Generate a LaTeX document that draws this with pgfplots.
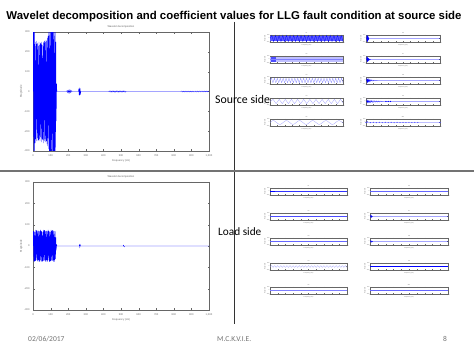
\documentclass[border=0pt]{standalone}
\usepackage{pgfplots}
\pgfplotsset{compat=1.18}
\usepackage{fontspec}
\setmainfont{Liberation Sans}
\newfontfamily\calibri{Carlito}
\pgfplotsset{
  mat/.style={scale only axis, anchor=south west, xmin=0, xmax=1000, xtick={0,100,...,1000},
    axis line style={black!60, line width=0.25pt}, tick style={black!60, line width=0.2pt},
    every axis plot/.append style={line width=0.25pt},
    /pgf/number format/assume math mode=true, scaled ticks=false,
    tick label style={text=black!60}, label style={text=black!60}, title style={text=black!60}},
  big/.style={mat, width=176pt, ymin=-300, ymax=300, ytick={-300,-200,...,300},
    every axis title shift=0.8pt, xlabel shift=-4pt, ylabel shift=-5pt,
    tick label style={font=\fontsize{2.6}{3}\selectfont},
    label style={font=\fontsize{2.6}{3}\selectfont},
    title style={font=\fontsize{2.6}{3}\selectfont},
    title={Wavelet decomposition}, xlabel={Frequency (Hz)}, ylabel={Magnitude}, major tick length=1.5pt},
  sm/.style={mat, height=7pt, ymin=-200, ymax=200, ytick={-200,0,200},
    every axis title shift=0.3pt,
    tick label style={font=\fontsize{1.4}{1.6}\selectfont, inner sep=0.4pt},
    label style={font=\fontsize{1.4}{1.6}\selectfont, inner sep=0.4pt},
    title style={font=\fontsize{1.4}{1.6}\selectfont, inner sep=0.5pt},
    xlabel={Frequency (Hz)}, ylabel={Magnitude}, major tick length=0.8pt},
}
\begin{document}
\begin{tikzpicture}
\useasboundingbox (0pt,0pt) rectangle (474pt,355pt);
\fill[white] (0pt,0pt) rectangle (474pt,355pt);
% slide text
\node[font=\bfseries\fontsize{11.4}{13}\selectfont] at (234pt,338pt) {Wavelet decomposition and coefficient values for LLG fault condition at source side};
\draw[black!80, line width=0.8pt] (234pt,333pt) -- (234pt,31pt);
\draw[black!55, line width=1.5pt] (0pt,184pt) -- (474pt,184pt);
\node[anchor=west, inner sep=0pt, font=\calibri\fontsize{11.8}{13}\selectfont] at (215pt,256pt) {Source side};
\node[anchor=west, inner sep=0pt, font=\calibri\fontsize{11.3}{13}\selectfont] at (218pt,123pt) {Load side};
\node[anchor=west, inner sep=0pt, text=black!55, font=\calibri\fontsize{7.5}{8}\selectfont] at (28pt,16pt) {02/06/2017};
\node[anchor=west, inner sep=0pt, text=black!55, font=\calibri\fontsize{7.5}{8}\selectfont] at (217pt,16pt) {M.C.K.V.I.E.};
\node[anchor=west, inner sep=0pt, text=black!55, font=\calibri\fontsize{7.5}{8}\selectfont] at (443pt,16pt) {8};

% ===== top-left main axis (source side)
\begin{axis}[big, at={(33pt,204pt)}, height=119pt]
\addplot[blue, line width=0.3pt] coordinates {(0,0)(2,330)(4,-330)(6,320)(8,-330)(10,300)(12,-260)(14,250)(16,-240)(18,255)(20,-250)(22,240)(24,-235)(26,245)(28,-250)(30,230)(32,-245)(34,250)(36,-240)(38,235)(40,-250)(42,245)(44,-230)(46,240)(48,-255)(50,250)(52,-240)(54,235)(56,-245)(58,250)(60,-260)(62,245)(64,-250)(66,255)(68,-240)(70,250)(72,-255)(74,260)(76,-250)(78,255)(80,-265)(82,270)(84,-275)(86,280)(88,-290)(90,300)(92,-310)(94,320)(96,-330)(98,330)(100,-330)(102,330)(104,-330)(106,330)(108,-330)(110,330)(112,-330)(114,330)(116,-330)(118,330)(120,-330)(122,330)(124,-330)(126,330)(128,-320)(130,250)(132,-150)(134,40)(136,0)};
\addplot[blue, line width=0.3pt] coordinates {(136,0)(190,0)(194,5)(197,-5)(200,6)(203,-6)(206,7)(209,-7)(212,6)(215,-6)(219,4)(223,0)(258,0)(260,14)(262,-18)(264,20)(266,-20)(268,16)(270,-10)(272,0)(430,0)(434,3)(438,-3)(442,3)(446,-3)(450,3)(454,-3)(458,3)(462,-3)(466,3)(470,-3)(474,3)(478,-3)(482,3)(486,-3)(490,3)(494,-3)(498,3)(502,-3)(506,3)(510,-3)(514,3)(518,-3)(522,3)(526,-3)(530,0)(840,0)(845,2.5)(850,-2.5)(855,2.5)(860,-2.5)(865,2.5)(870,-2.5)(875,2.5)(880,-2.5)(885,2.5)(890,-2.5)(895,2.5)(900,-2.5)(905,2.5)(910,-2.5)(915,2.5)(920,-2.5)(925,2.5)(930,-2.5)(935,2.5)(940,-2.5)(945,2.5)(950,-2.5)(955,2.5)(960,-2.5)(965,2.5)(970,-2.5)(975,2.5)(980,-2.5)(985,2.5)(990,-2.5)(995,2.5)(1000,0)};
\end{axis}

% ===== bottom-left main axis (load side)
\begin{axis}[big, at={(33pt,45pt)}, height=128pt]
\addplot[blue, line width=0.3pt] coordinates {(0,0)(2,70)(4,-72)(6,68)(8,-74)(10,66)(12,-70)(14,75)(16,-68)(18,72)(20,-66)(22,74)(24,-70)(26,68)(28,-75)(30,72)(32,-66)(34,70)(36,-74)(38,68)(40,-72)(42,75)(44,-66)(46,70)(48,-72)(50,68)(52,-74)(54,66)(56,-70)(58,75)(60,-68)(62,72)(64,-66)(66,74)(68,-70)(70,68)(72,-75)(74,72)(76,-66)(78,70)(80,-74)(82,68)(84,-72)(86,75)(88,-66)(90,70)(92,-72)(94,68)(96,-74)(98,66)(100,-70)(102,75)(104,-68)(106,72)(108,-66)(110,74)(112,-70)(114,68)(116,-75)(118,72)(120,-66)(122,70)(124,-74)(126,68)(128,-60)(130,40)(132,-20)(134,5)(136,0)};
\addplot[blue, line width=0.3pt] coordinates {(136,0)(262,0)(264,6)(266,-6)(268,6)(270,0)(512,0)(515,4)(518,-4)(521,0)(1000,0)};
\end{axis}

% ===== top-right small axes, left column
\begin{axis}[sm, at={(270pt,313pt)}, width=73pt, title={d1}]
\addplot[fill=blue!65, draw=none] coordinates {(0,-150)(0,150)(1000,150)(1000,-150)};
\addplot[blue] coordinates {(0,0)(25,185)(50,-185)(75,185)(100,-185)(125,185)(150,-185)(175,185)(200,-185)(225,185)(250,-185)(275,185)(300,-185)(325,185)(350,-185)(375,185)(400,-185)(425,185)(450,-185)(475,185)(500,-185)(525,185)(550,-185)(575,185)(600,-185)(625,185)(650,-185)(675,185)(700,-185)(725,185)(750,-185)(775,185)(800,-185)(825,185)(850,-185)(875,185)(900,-185)(925,185)(950,-185)(975,185)(1000,-185)};
\end{axis}
\begin{axis}[sm, at={(270pt,292pt)}, width=73pt, title={d2}]
\addplot[fill=blue!25, draw=none] coordinates {(0,-150)(0,150)(1000,150)(1000,-150)};
\addplot[fill=blue!70, draw=none] coordinates {(10,-160)(10,160)(80,160)(80,-160)};
\addplot[blue!50] coordinates {(0,0)(1000,0)};
\end{axis}
\begin{axis}[sm, at={(270pt,271pt)}, width=73pt, title={d3}]
\addplot[blue!50] coordinates {(0,0)(20,130)(40,-130)(60,130)(80,-130)(100,130)(120,-130)(140,130)(160,-130)(180,130)(200,-130)(220,130)(240,-130)(260,130)(280,-130)(300,130)(320,-130)(340,130)(360,-130)(380,130)(400,-130)(420,130)(440,-130)(460,130)(480,-130)(500,130)(520,-130)(540,130)(560,-130)(580,130)(600,-130)(620,130)(640,-130)(660,130)(680,-130)(700,130)(720,-130)(740,130)(760,-130)(780,130)(800,-130)(820,130)(840,-130)(860,130)(880,-130)(900,130)(920,-130)(940,130)(960,-130)(980,130)(1000,-130)};
\end{axis}
\begin{axis}[sm, at={(270pt,250pt)}, width=73pt, title={d4}]
\addplot[blue!40] coordinates {(0,0)(42,120)(84,-120)(126,120)(168,-120)(210,120)(252,-120)(294,120)(336,-120)(378,120)(420,-120)(462,120)(504,-120)(546,120)(588,-120)(630,120)(672,-120)(714,120)(756,-120)(798,120)(840,-120)(882,120)(924,-120)(966,120)(1008,-120)};
\end{axis}
\begin{axis}[sm, at={(270pt,229pt)}, width=73pt, title={d5}]
\addplot[blue!40, smooth] coordinates {(0,0)(45,120)(90,0)(135,-120)(180,0)(225,120)(270,0)(315,-120)(360,0)(405,120)(450,0)(495,-120)(540,0)(585,120)(630,0)(675,-120)(720,0)(765,120)(810,0)(855,-120)(900,0)(945,120)(990,0)(1035,-120)};
\end{axis}

% ===== top-right small axes, right column
\begin{axis}[sm, at={(366pt,313pt)}, width=74pt, title={d6}]
\addplot[blue] coordinates {(0,0)(8,0)(10,150)(12,-170)(14,180)(16,-190)(18,185)(20,-180)(22,170)(24,-160)(26,150)(28,-120)(30,100)(32,-80)(34,60)(36,-40)(38,20)(40,0)(1000,0)};
\end{axis}
\begin{axis}[sm, at={(366pt,292pt)}, width=74pt, title={d7}]
\addplot[blue] coordinates {(0,0)(8,0)(10,160)(13,-170)(16,150)(19,-140)(22,120)(25,-100)(28,80)(32,-60)(36,50)(40,-40)(45,30)(50,-20)(56,15)(62,-10)(70,5)(80,0)(1000,0)};
\end{axis}
\begin{axis}[sm, at={(366pt,271pt)}, width=74pt, title={d8}]
\addplot[blue] coordinates {(0,0)(8,0)(11,120)(15,-110)(19,100)(24,-90)(29,80)(35,-70)(41,65)(48,-60)(55,50)(63,-45)(72,40)(82,-35)(93,30)(105,-25)(118,20)(132,-15)(148,10)(165,0)(1000,0)};
\end{axis}
\begin{axis}[sm, at={(366pt,250pt)}, width=74pt, title={d9}]
\addplot[blue] coordinates {(0,0)(8,0)(12,70)(18,-70)(24,65)(30,-65)(38,60)(46,-60)(55,55)(64,-55)(74,50)(84,-50)(95,45)(106,-45)(118,40)(130,-40)(143,35)(156,-35)(170,30)(184,-30)(200,25)(216,-20)(232,15)(250,0)(1000,0)};
\addplot[blue, only marks, mark=*, mark size=0.5pt] coordinates {(270,0)(300,0)(330,0)};
\end{axis}
\begin{axis}[sm, at={(366pt,229pt)}, width=74pt, title={d10}]
\addplot[blue!70, mark=*, mark size=0.35pt] coordinates {(0,0)(20,30)(60,-10)(100,10)(140,-10)(180,10)(220,-10)(260,10)(300,-10)(340,10)(380,-10)(420,8)(460,-8)(500,8)(540,-8)(580,6)(620,-6)(660,5)(700,0)(1000,0)};
\end{axis}

% ===== bottom-right small axes, left column
\begin{axis}[sm, at={(270pt,160pt)}, width=77pt, title={d1}]
\addplot[blue] coordinates {(0,0)(60,0)};
\addplot[fill=blue!80, draw=none] coordinates {(60,-50)(60,50)(1000,50)(1000,-50)};
\end{axis}
\begin{axis}[sm, at={(270pt,135pt)}, width=77pt, title={d2}]
\addplot[fill=blue!40, draw=none] coordinates {(0,-22)(0,22)(1000,22)(1000,-22)};
\addplot[blue!70] coordinates {(0,0)(1000,0)};
\end{axis}
\begin{axis}[sm, at={(270pt,110pt)}, width=77pt, title={d3}]
\addplot[blue!60] coordinates {(0,0)(1000,0)};
\end{axis}
\begin{axis}[sm, at={(270pt,85pt)}, width=77pt, title={d4}]
\addplot[blue!35] coordinates {(0,0)(20,50)(40,-50)(60,50)(80,-50)(100,50)(120,-50)(140,50)(160,-50)(180,50)(200,-50)(220,50)(240,-50)(260,50)(280,-50)(300,50)(320,-50)(340,50)(360,-50)(380,50)(400,-50)(420,50)(440,-50)(460,50)(480,-50)(500,50)(520,-50)(540,50)(560,-50)(580,50)(600,-50)(620,50)(640,-50)(660,50)(680,-50)(700,50)(720,-50)(740,50)(760,-50)(780,50)(800,-50)(820,50)(840,-50)(860,50)(880,-50)(900,50)(920,-50)(940,50)(960,-50)(980,50)(1000,-50)};
\end{axis}
\begin{axis}[sm, at={(270pt,61pt)}, width=77pt, title={d5}]
\addplot[blue!50] coordinates {(0,0)(1000,0)};
\end{axis}

% ===== bottom-right small axes, right column
\begin{axis}[sm, at={(370pt,160pt)}, width=78pt, title={d6}]
\addplot[blue!60] coordinates {(0,0)(1000,0)};
\end{axis}
\begin{axis}[sm, at={(370pt,135pt)}, width=78pt, title={d7}]
\addplot[blue] coordinates {(0,0)(8,60)(12,-60)(16,50)(20,-40)(24,30)(28,-20)(32,10)(36,0)(1000,0)};
\end{axis}
\begin{axis}[sm, at={(370pt,110pt)}, width=78pt, title={d8}]
\addplot[blue] coordinates {(0,0)(8,45)(13,-45)(18,35)(24,-30)(30,20)(36,-12)(44,6)(52,0)(1000,0)};
\end{axis}
\begin{axis}[sm, at={(370pt,85pt)}, width=78pt, title={d9}]
\addplot[fill=blue!60, draw=none] coordinates {(0,-15)(0,15)(300,15)(300,-15)};
\addplot[blue] coordinates {(0,0)(1000,0)};
\end{axis}
\begin{axis}[sm, at={(370pt,61pt)}, width=78pt, title={d10}]
\addplot[blue!60] coordinates {(0,0)(1000,0)};
\end{axis}
\end{tikzpicture}
\end{document}
